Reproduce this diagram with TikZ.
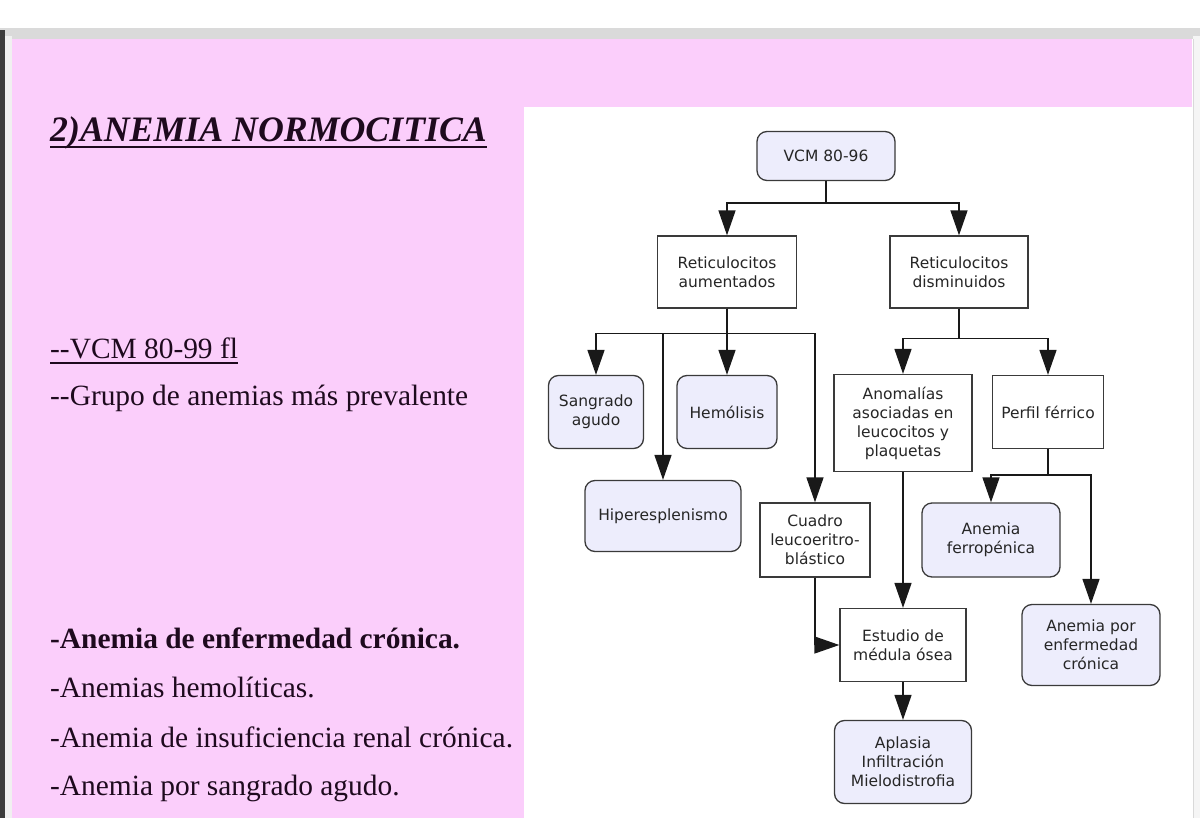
\documentclass[tikz,border=0pt]{standalone}
\usepackage{fontspec}
\setmainfont{Liberation Serif}
\newfontfamily\diagfont{DejaVu Sans}
\usetikzlibrary{arrows.meta}
\definecolor{pinkbg}{HTML}{FBCEFB}
\definecolor{lav}{HTML}{EDEDFC}
\definecolor{boxline}{HTML}{3A3A3A}
\definecolor{ink}{HTML}{1E0A1E}
\definecolor{bandgray}{HTML}{DADADA}
\definecolor{strip}{HTML}{3C3C3C}
\begin{document}
\begin{tikzpicture}[x=1pt,y=-1pt,
  box/.style={draw=boxline, line width=1.3pt, fill=white, text=black!85,
    font=\diagfont\fontsize{15.5}{19}\selectfont, align=center, inner sep=0pt},
  rbox/.style={box, fill=lav, rounded corners=10pt},
  conn/.style={line width=1.5pt, draw=black!90, -{Triangle[length=25pt,width=17pt]}},
  body/.style={anchor=base west, inner sep=0pt, font=\fontsize{29.4}{34}\selectfont, text=ink},
  heading/.style={anchor=base west, inner sep=0pt, font=\fontsize{35.8}{40}\selectfont\bfseries\itshape, text=ink},
  uline/.style={draw=ink, line width=1.8pt}]
\useasboundingbox (0,0) rectangle (1200,818);
% background
\fill[white] (0,0) rectangle (1200,818);
\fill[bandgray] (0,28) rectangle (1200,39);
\fill[black!6] (5,36) rectangle (12,818);
\fill[strip] (0,30) rectangle (5,818);
\fill[pinkbg] (12,39) rectangle (1192,818);
\fill[black!4] (1193,36) rectangle (1200,818);
\draw[black!15, line width=0.8pt] (1193,39) -- (1193,818);
\fill[white] (524,107) rectangle (1192,818);
% left text
\node[heading] (title) at (50,142) {2)ANEMIA NORMOCITICA};
\draw[uline] ([yshift=-5pt]title.base west) -- ([yshift=-5pt]title.base east);
\node[body] (vcmtxt) at (50,359) {-{}-VCM 80-99 fl};
\draw[uline, line width=1.4pt] ([yshift=-4pt]vcmtxt.base west) -- ([yshift=-4pt]vcmtxt.base east);
\node[body] (grupo) at (50,406) {-{}-Grupo de anemias más prevalente};
\node[body, font=\fontsize{29.4}{34}\selectfont\bfseries] (l1) at (50,648) {-Anemia de enfermedad crónica.};
\node[body] (l2) at (50,697) {-Anemias hemolíticas.};
\node[body] (l3) at (50,747) {-Anemia de insuficiencia renal crónica.};
\node[body] (l4) at (50,795) {-Anemia por sangrado agudo.};
% diagram nodes
\node[rbox, minimum width=138pt, minimum height=49pt] (vcm) at (826,156) {VCM 80-96};
\node[box, minimum width=139pt, minimum height=72pt] (reta) at (727,272) {Reticulocitos\\aumentados};
\node[box, minimum width=138pt, minimum height=72pt] (retd) at (959,272) {Reticulocitos\\disminuidos};
\node[rbox, minimum width=95pt, minimum height=73pt] (sang) at (596,412) {Sangrado\\agudo};
\node[rbox, minimum width=100pt, minimum height=73pt] (hemo) at (727,412) {Hemólisis};
\node[rbox, minimum width=156pt, minimum height=71pt] (hiper) at (663,516) {Hiperesplenismo};
\node[box, minimum width=110pt, minimum height=74pt] (cuadro) at (815,540) {Cuadro\\leucoeritro-\\blástico};
\node[box, minimum width=138pt, minimum height=97pt] (anom) at (903,423) {Anomalías\\asociadas en\\leucocitos y\\plaquetas};
\node[box, minimum width=111pt, minimum height=73pt] (perfil) at (1048,412) {Perfil férrico};
\node[rbox, minimum width=138pt, minimum height=74pt] (ferro) at (991,540) {Anemia\\ferropénica};
\node[rbox, minimum width=138pt, minimum height=81pt] (cron) at (1091,645) {Anemia por\\enfermedad\\crónica};
\node[box, minimum width=126pt, minimum height=73pt] (est) at (903,645) {Estudio de\\médula ósea};
\node[rbox, minimum width=137pt, minimum height=83pt] (apl) at (903,762) {Aplasia\\Infiltración\\Mielodistrofia};
% connectors
\draw[conn] (vcm.south) -- ++(0,22) -| (reta.north);
\draw[conn] (vcm.south) -- ++(0,22) -| (retd.north);
\draw[conn] (reta.south) -- ++(0,25) -| (sang.north);
\draw[conn] (reta.south) -- ++(0,25) -| (hiper.north);
\draw[conn] (reta.south) -- (hemo.north);
\draw[conn] (reta.south) -- ++(0,25) -| (cuadro.north);
\draw[conn] (retd.south) -- ++(0,30) -| (anom.north);
\draw[conn] (retd.south) -- ++(0,30) -| (perfil.north);
\draw[conn] (perfil.south) -- ++(0,26) -| (ferro.north);
\draw[conn] (perfil.south) -- ++(0,26) -| (cron.north);
\draw[conn] (anom.south) -- (est.north);
\draw[conn] (cuadro.south) |- (est.west);
\draw[conn] (est.south) -- (apl.north);
\end{tikzpicture}
\end{document}
